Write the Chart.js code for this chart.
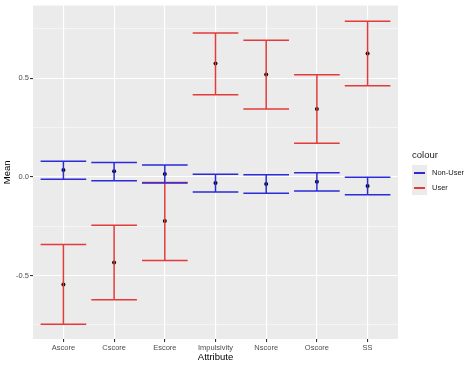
<!DOCTYPE html>
<html>
<head>
<meta charset="utf-8">
<script src="https://cdn.jsdelivr.net/npm/chart.js@4/dist/chart.umd.min.js"></script>
<style>
  body { margin: 0; background: #fff; font-family: "Liberation Sans", Arial, sans-serif; }
  #wrap { position: relative; width: 474px; height: 366px; }
  #legend { position: absolute; left: 412px; top: 149px; font-size: 9.5px; color: #1a1a1a; }
  #legend .title { margin-bottom: 5px; }
  #legend .row { display: flex; align-items: center; height: 15px; font-size: 7.5px; color: #1a1a1a; }
  #legend .key { width: 15px; height: 15px; background: #ebebeb; position: relative; margin-right: 5px; }
  #legend .key span { position: absolute; left: 2px; right: 2px; top: 7px; height: 1.5px; }
</style>
</head>
<body>
<div id="wrap">
  <canvas id="chart" width="474" height="366"></canvas>
  <div id="legend">
    <div class="title">colour</div>
    <div class="row"><div class="key"><span style="background:#2b2bd9"></span></div>Non-User</div>
    <div class="row"><div class="key"><span style="background:#e33b3b"></span></div>User</div>
  </div>
</div>
<script>
const categories = ["Ascore", "Cscore", "Escore", "Impulsivity", "Nscore", "Oscore", "SS"]

const userMean = [-0.545, -0.433, -0.224, 0.574, 0.518, 0.344, 0.625]
const userLow = [-0.746, -0.622, -0.423, 0.416, 0.344, 0.171, 0.461]
const userHigh = [-0.343, -0.245, -0.029, 0.729, 0.692, 0.517, 0.788]

const nonUserMean = [0.035, 0.028, 0.015, -0.031, -0.036, -0.024, -0.046]
const nonUserLow = [-0.012, -0.019, -0.031, -0.076, -0.083, -0.071, -0.090]
const nonUserHigh = [0.079, 0.073, 0.060, 0.013, 0.011, 0.021, -0.002]

const yTicks = [-0.75, -0.5, -0.25, 0, 0.25, 0.5, 0.75]

// error bar = top whisker, vertical stem, bottom whisker, separated by gaps
function errorBars(low, high) {
  const pts = []
  const w = 0.45
  low.forEach((lo, i) => {
    const hi = high[i]
    pts.push({ x: i - w, y: hi }, { x: i + w, y: hi }, { x: i, y: null })
    pts.push({ x: i, y: hi }, { x: i, y: lo }, { x: i, y: null })
    pts.push({ x: i - w, y: lo }, { x: i + w, y: lo }, { x: i, y: null })
  })
  return pts
}

function means(arr) {
  return arr.map((v, i) => ({ x: i, y: v }))
}

const panelBg = {
  id: "panelBg",
  beforeDraw(chart) {
    const { ctx, chartArea: a } = chart
    ctx.save()
    ctx.fillStyle = "#ebebeb"
    ctx.fillRect(a.left, a.top, a.right - a.left, a.bottom - a.top)
    ctx.restore()
  }
}

const isMajor = v => Math.abs(v * 2 - Math.round(v * 2)) < 1e-6

new Chart(document.getElementById("chart"), {
  type: "line",
  data: {
    datasets: [
      {
        label: "Non-User",
        data: errorBars(nonUserLow, nonUserHigh),
        borderColor: "#2b2bd9",
        borderWidth: 1.5,
        pointRadius: 0,
        spanGaps: false
      },
      {
        label: "User",
        data: errorBars(userLow, userHigh),
        borderColor: "#e33b3b",
        borderWidth: 1.5,
        pointRadius: 0,
        spanGaps: false
      },
      {
        label: "Non-User mean",
        data: means(nonUserMean),
        showLine: false,
        pointRadius: 2,
        pointBackgroundColor: "#000",
        pointBorderColor: "#000",
        pointBorderWidth: 0
      },
      {
        label: "User mean",
        data: means(userMean),
        showLine: false,
        pointRadius: 2,
        pointBackgroundColor: "#000",
        pointBorderColor: "#000",
        pointBorderWidth: 0
      }
    ]
  },
  options: {
    responsive: false,
    animation: false,
    layout: { padding: { left: 0, right: 76, top: 4, bottom: 0 } },
    plugins: {
      legend: { display: false },
      tooltip: { enabled: false }
    },
    scales: {
      x: {
        type: "linear",
        min: -0.6,
        max: 6.6,
        afterBuildTicks: s => { s.ticks = categories.map((c, i) => ({ value: i })) },
        afterFit: s => { s.height = 27 },
        border: { display: false },
        grid: { color: "#ffffff", lineWidth: 1.1, tickColor: "#333333", tickLength: 3 },
        ticks: {
          callback: v => categories[v],
          color: "#4d4d4d",
          font: { family: "Liberation Sans", size: 7.5 },
          padding: 1,
          maxRotation: 0,
          autoSkip: false
        },
        title: {
          display: true,
          text: "Attribute",
          color: "#000",
          font: { family: "Liberation Sans", size: 9.5 },
          padding: { top: 0, bottom: 3 }
        }
      },
      y: {
        min: -0.821,
        max: 0.868,
        afterBuildTicks: s => { s.ticks = yTicks.map(v => ({ value: v })) },
        afterFit: s => { s.width = 33 },
        border: { display: false },
        grid: {
          color: "#ffffff",
          lineWidth: c => isMajor(c.tick.value) ? 1.1 : 0.5,
          tickColor: c => isMajor(c.tick.value) ? "#333333" : "rgba(0,0,0,0)",
          tickLength: 3
        },
        ticks: {
          callback: v => isMajor(v) ? v.toFixed(1) : "",
          color: "#4d4d4d",
          font: { family: "Liberation Sans", size: 7.5 },
          padding: 1
        },
        title: {
          display: true,
          text: "Mean",
          color: "#000",
          font: { family: "Liberation Sans", size: 9.5 },
          padding: { top: 2, bottom: 0 }
        }
      }
    }
  },
  plugins: [panelBg]
})
</script>
</body>
</html>
